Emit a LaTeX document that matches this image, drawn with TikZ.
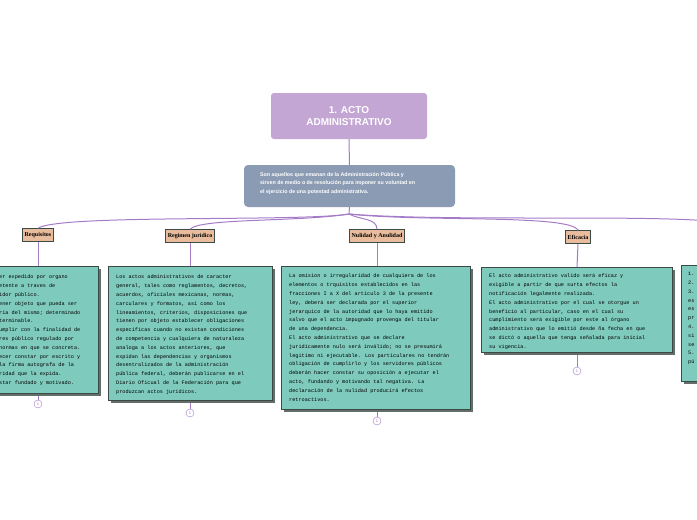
\documentclass[tikz,border=0pt]{standalone}
\usepackage{fontspec}
\setmainfont{Liberation Sans}
\newfontfamily\monof{Liberation Mono}
\newfontfamily\serf{Liberation Serif}
\definecolor{ttl}{HTML}{C3A6D4}
\definecolor{sub}{HTML}{8A9BB3}
\definecolor{tan}{HTML}{E8BC9C}
\definecolor{teal}{HTML}{7ECBBE}
\definecolor{brd}{HTML}{3C4A46}
\definecolor{lnk}{HTML}{A57BC8}
\tikzset{
 link/.style={draw=lnk,line width=1pt},
 tbox/.style={fill=teal,draw=brd,line width=0.8pt},
 lbl/.style={fill=tan,draw=brd,line width=0.6pt,font=\serf\bfseries\fontsize{6}{7}\selectfont,inner sep=2pt,minimum height=13pt},
 btxt/.style={anchor=north west,align=left,inner sep=0pt,font=\monof\fontsize{5.2}{8.8}\selectfont},
 circ/.style={circle,draw=lnk,fill=white,inner sep=0pt,minimum size=8pt,font=\fontsize{4}{4}\selectfont,text=lnk}
}
\begin{document}
\begin{tikzpicture}[x=1pt,y=-1pt]
\useasboundingbox (0,0) rectangle (697,520);
\clip (0,0) rectangle (697,520);
\fill[white] (0,0) rectangle (697,520);
\node[fill=ttl,rounded corners=3pt,minimum width=156pt,minimum height=46pt,text=white,align=center,font=\bfseries\fontsize{10}{12}\selectfont] (t) at (349,116) {1. ACTO\\ADMINISTRATIVO};
\node[fill=sub,rounded corners=4pt,minimum width=211pt,minimum height=42pt] (s) at (349.5,186) {};
\node[anchor=north west,align=left,inner sep=0pt,text=white,font=\bfseries\fontsize{5.3}{8.5}\selectfont] (st) at (260,172) {Son aquellos que emanan de la Administración Pública y\\sirven de medio o de resolución para imponer su voluntad en\\el ejercicio de una potestad administrativa.};
\draw[link] (t.south) -- (s.north);
\coordinate (hub) at (349,214);
\draw[link] (s.south) -- (hub);
\node[lbl] (l1) at (38,235) {Requisitos};
\node[lbl] (l2) at (190,236) {Regimen juridico};
\node[lbl] (l3) at (377,236) {Nulidad y Anulidad};
\node[lbl] (l4) at (578,237) {Eficacia};
\coordinate (rgt) at (720,222);
\draw[link] (hub) .. controls (300,222) and (60,214) .. (l1.north);
\draw[link] (hub) .. controls (300,222) and (200,218) .. (l2.north);
\draw[link] (hub) .. controls (360,220) and (377,218) .. (l3.north);
\draw[link] (hub) .. controls (420,222) and (570,214) .. (l4.north);
\draw[link] (hub) .. controls (450,222) and (650,214) .. (rgt);
\foreach \a/\b/\c/\d in {-20/266/98/393, 108/266/272/400, 281/266/470/409, 481/267/672/352, 681/265/720/381}
 {\fill[brd!80] (\a+3,\b+3) rectangle (\c+3,\d+3);
  \draw[tbox] (\a,\b) rectangle (\c,\d);}
\coordinate (b1) at (38,266); \coordinate (b2) at (190,266);
\coordinate (b3) at (377,266); \coordinate (b4) at (577,267);
\draw[link] (l1.south) -- (b1);
\draw[link] (l2.south) -- (b2);
\draw[link] (l3.south) -- (b3);
\draw[link] (l4.south) -- (b4);
\node[circ] (c1) at (38,404) {1};
\node[circ] (c2) at (190,413) {1};
\node[circ] (c3) at (377,421) {1};
\node[circ] (c4) at (577,371) {1};
\draw[link] (38,396) -- (c1.north);
\draw[link] (190,403) -- (c2.north);
\draw[link] (377,412) -- (c3.north);
\draw[link] (577,355) -- (c4.north);
\node[btxt] (x1) at (-1,275) {er expedido por organo\\etente a traves de\\idor público.\\ener objeto que pueda ser\\ria del mismo; determinado\\terminable.\\umplir con la finalidad de\\res público regulado por\\normas en que se concreta.\\ecer constar por escrito y\\la firma autografa de la\\ridad que la expida.\\star fundado y motivado.};
\node[btxt] (x2) at (116,275) {Los actos administrativos de caracter\\general, tales como reglamentos, decretos,\\acuerdos, oficiales mexicanas, normas,\\carculares y formatos, así como los\\lineamientos, criterios, disposiciones que\\tienen por objeto establecer obligaciones\\especificas cuando no existan condiciones\\de competencia y cualquiera de naturaleza\\analoga a los actos anteriores, que\\expidan las dependencias y organismos\\desentralizados de la administración\\pública federal, deberán publicarse en el\\Diario Oficual de la Federación para que\\produzcan actos jurídicos.};
\node[btxt] (x3) at (289,274) {La omision o irregularidad de cualquiera de los\\elementos o trquisitos establecidos en las\\fracciones I a X del artículo 3 de la presente\\ley, deberá ser declarada por el superior\\jerarquico de la autoridad que lo haya emitido\\salvo que el acto impugnado provenga del titular\\de una dependencia.\\El acto administrativo que se declare\\juridicamente nulo será inválido; no se presumirá\\legitimo ni ejecutable. Los particulares no tendrán\\obligación de cumplirlo y los servidores públicos\\deberán hacer constar su oposición a ejecutar el\\acto, fundando y motivando tal negativa. La\\declaración de la nulidad producirá efectos\\retroactivos.};
\node[btxt] (x4) at (489,274) {El acto administrativo valido será eficaz y\\exigible a partir de que surta efectos la\\notificación legalmente realizada.\\El acto administrativo por el cual se otorgue un\\beneficio al particular, caso en el cual su\\cumplimiento será exigible por este al órgano\\administrativo que lo emitió desde ña fecha en que\\se dictó o aquella que tenga señalada para inicial\\su vigencia.};
\node[btxt] (x5) at (688,272) {1.\\2.\\3.\\es\\es\\pr\\4.\\si\\se\\5.\\pú};
\end{tikzpicture}
\end{document}
